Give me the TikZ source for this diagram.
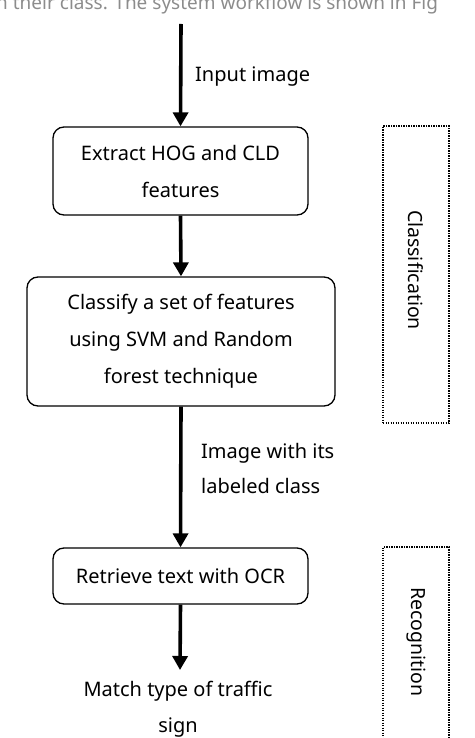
\documentclass[tikz,border=0pt]{standalone}
\usepackage{fontspec}
\setmainfont{Noto Sans}
\usetikzlibrary{arrows.meta}
\begin{document}
\begin{tikzpicture}[x=1pt,y=-1pt,
  stepbox/.style={draw,line width=1.3pt,rounded corners=11pt,align=center,
    font=\fontsize{20}{37}\selectfont,inner sep=0pt},
  flow/.style={line width=3.6pt,-{Triangle[width=15pt,length=14pt]}},
  lbl/.style={font=\fontsize{20}{35}\selectfont,align=left,inner sep=0pt},
  phase/.style={draw,line width=1.4pt,dash pattern=on 1.4pt off 1.1pt,inner sep=0pt},
  phasetxt/.style={font=\fontsize{19.5}{22}\selectfont,rotate=-90,inner sep=0pt}]
\useasboundingbox (0,0) rectangle (474,738);
\begin{scope}
\clip (0,0) rectangle (474,738);
\node[anchor=base west,inner sep=0pt,text=black!45,font=\fontsize{19}{22}\selectfont] (top) at (-4,10) {n their class. The system workflow is shown in Fig};
\end{scope}
\coordinate (start) at (181,24);
\node[stepbox,minimum width=255pt,minimum height=88pt] (b1) at (180.5,171) {Extract HOG and CLD\\features};
\node[stepbox,minimum width=308pt,minimum height=129pt] (b2) at (181,341.5) {Classify a set of features\\using SVM and Random\\forest technique};
\node[stepbox,minimum width=255pt,minimum height=56pt] (b3) at (180.5,576) {Retrieve text with OCR};
\node[lbl,anchor=base west] (l1) at (195,82) {Input image};
\node[lbl,anchor=base west] (l2) at (201,493) {Image with its\\labeled class};
\node[align=center,inner sep=0pt,font=\fontsize{20}{36}\selectfont,anchor=north] (end) at (178,681) {Match type of traffic\\sign};
\draw[flow] (start) -- (b1.north);
\draw[flow] (b1.south) -- (b2.north);
\draw[flow] (b2.south) -- (b3.north);
\draw[flow] (b3.south) -- (180,670);
\node[phase,minimum width=66pt,minimum height=297pt] (p1) at (416,274.5) {};
\node[phasetxt] (t1) at (416,270) {Classification};
\node[phase,minimum width=66pt,minimum height=195pt] (p2) at (416,644.5) {};
\node[phasetxt] (t2) at (416,642) {Recognition};
\end{tikzpicture}
\end{document}
